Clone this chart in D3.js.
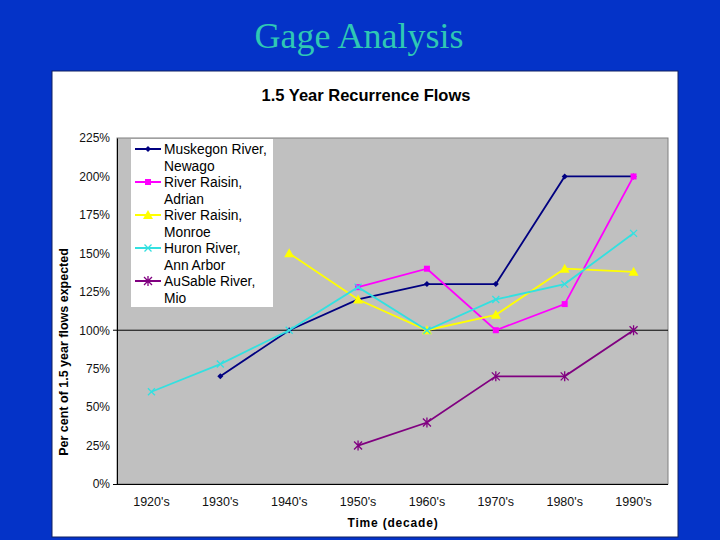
<!DOCTYPE html>
<html lang="en">
<head>
<meta charset="UTF-8">
<title>Gage Analysis</title>
<style>
  body { margin: 0; background: #0433c8; }
  svg { display: block; }
</style>
</head>
<body>
<script src="https://d3js.org/d3.v7.min.js"></script>
<script>
// data (percent of expected 1.5 year flow)
const decades = ["1920's", "1930's", "1940's", "1950's", "1960's", "1970's", "1980's", "1990's"];
const muskegon  = [null, 70, 100, 120, 130, 130, 200, 200];
const raisinAdr = [null, null, null, 128, 140, 100, 117, 200];
const raisinMon = [null, null, 150, 120, 100, 110, 140, 138];
const huron     = [60, 78, 100, 128, 100, 120, 130, 163];
const ausable   = [null, null, null, 25, 40, 70, 70, 100];
const yTicks = [0, 25, 50, 75, 100, 125, 150, 175, 200, 225];

const series = [
  { name: ["Muskegon River,", "Newago"], values: muskegon, color: "#000080", marker: "diamond" },
  { name: ["River Raisin,", "Adrian"], values: raisinAdr, color: "#ff00ff", marker: "square" },
  { name: ["River Raisin,", "Monroe"], values: raisinMon, color: "#ffff00", marker: "triangle" },
  { name: ["Huron River,", "Ann Arbor"], values: huron, color: "#33e0e0", marker: "x" },
  { name: ["AuSable River,", "Mio"], values: ausable, color: "#800080", marker: "star" }
];

const font = "Arial, 'Liberation Sans', sans-serif";
const width = 720, height = 540;
const svg = d3.select("body").append("svg")
  .attr("width", width).attr("height", height);

// slide title
svg.append("text")
  .attr("x", 359).attr("y", 48)
  .attr("text-anchor", "middle")
  .style("font-family", "'Liberation Serif', 'Times New Roman', serif")
  .style("font-size", "36px")
  .style("fill", "#2fc8b4")
  .text("Gage Analysis");

// white chart panel
svg.append("rect")
  .attr("x", 52).attr("y", 71).attr("width", 626).attr("height", 466)
  .attr("fill", "#fff").attr("stroke", "#102060").attr("stroke-width", 1);

const plot = { left: 117, right: 668, top: 138, bottom: 484 };

const x = d3.scaleBand().domain(decades).range([plot.left, plot.right]);
const y = d3.scaleLinear().domain([0, 225]).range([plot.bottom, plot.top]);

svg.append("rect")
  .attr("x", plot.left).attr("y", plot.top)
  .attr("width", plot.right - plot.left).attr("height", plot.bottom - plot.top)
  .attr("fill", "#c0c0c0").attr("stroke", "#808080");

// chart title
svg.append("text")
  .attr("x", 366).attr("y", 101)
  .attr("text-anchor", "middle")
  .style("font-family", font)
  .style("font-weight", "bold").style("font-size", "16.5px")
  .text("1.5 Year Recurrence Flows");

// 100% reference line
svg.append("line")
  .attr("x1", plot.left - 4).attr("x2", plot.right)
  .attr("y1", y(100)).attr("y2", y(100))
  .attr("stroke", "#000").attr("stroke-width", 1);

// axes
const yAxis = svg.append("g")
  .attr("transform", `translate(${plot.left},0)`)
  .call(d3.axisLeft(y).tickValues(yTicks).tickSize(0).tickPadding(7)
    .tickFormat(d => d + "%"));
yAxis.select(".domain").attr("stroke", "#000");
yAxis.selectAll("text")
  .style("font-family", font)
  .style("font-size", "12px").style("fill", "#111");

const xAxis = svg.append("g")
  .attr("transform", `translate(0,${plot.bottom})`)
  .call(d3.axisBottom(x).tickSize(0).tickPadding(13));
xAxis.select(".domain").attr("stroke", "#000").attr("d", `M${plot.left - 4},0.5H${plot.right}`);
xAxis.selectAll("text")
  .style("font-family", font)
  .style("font-size", "12.5px").style("fill", "#111");

// axis titles
svg.append("text")
  .attr("transform", "translate(68,352) rotate(-90)")
  .attr("text-anchor", "middle")
  .style("font-family", font)
  .style("font-weight", "bold").style("font-size", "12.5px")
  .text("Per cent of 1.5 year flows expected");

svg.append("text")
  .attr("x", 393).attr("y", 527)
  .attr("text-anchor", "middle")
  .style("font-family", font)
  .style("font-weight", "bold").style("font-size", "12px")
  .style("letter-spacing", "0.8px")
  .text("Time (decade)");

function drawMarker(g, type, color, cx, cy) {
  if (type === "diamond") {
    g.append("path").attr("d", `M${cx},${cy - 3}L${cx + 3},${cy}L${cx},${cy + 3}L${cx - 3},${cy}Z`)
      .attr("fill", color);
  } else if (type === "square") {
    g.append("rect").attr("x", cx - 3).attr("y", cy - 3).attr("width", 6).attr("height", 6)
      .attr("fill", color);
  } else if (type === "triangle") {
    g.append("path").attr("d", `M${cx},${cy - 5}L${cx + 5},${cy + 4}L${cx - 5},${cy + 4}Z`)
      .attr("fill", color);
  } else if (type === "x") {
    g.append("path").attr("d", `M${cx - 3.5},${cy - 3.5}L${cx + 3.5},${cy + 3.5}M${cx - 3.5},${cy + 3.5}L${cx + 3.5},${cy - 3.5}`)
      .attr("stroke", color).attr("stroke-width", 1.3);
  } else if (type === "star") {
    g.append("path").attr("d", `M${cx - 4},${cy - 4}L${cx + 4},${cy + 4}M${cx - 4},${cy + 4}L${cx + 4},${cy - 4}M${cx},${cy - 5}L${cx},${cy + 5}`)
      .attr("stroke", color).attr("stroke-width", 1.3);
  }
}

const line = d3.line()
  .defined(d => d.v != null)
  .x(d => x(d.c) + x.bandwidth() / 2)
  .y(d => y(d.v));

series.forEach(s => {
  const pts = decades.map((c, i) => ({ c: c, v: s.values[i] }));
  const g = svg.append("g");
  g.append("path").datum(pts)
    .attr("d", line)
    .attr("fill", "none").attr("stroke", s.color).attr("stroke-width", 1.8);
  pts.filter(d => d.v != null).forEach(d => {
    drawMarker(g, s.marker, s.color, x(d.c) + x.bandwidth() / 2, y(d.v));
  });
});

// legend
const legend = svg.append("g");
legend.append("rect")
  .attr("x", 131).attr("y", 139).attr("width", 142).attr("height", 168)
  .attr("fill", "#fff");
series.forEach((s, i) => {
  const cy = 149 + i * 33;
  legend.append("line")
    .attr("x1", 135).attr("x2", 161).attr("y1", cy).attr("y2", cy)
    .attr("stroke", s.color).attr("stroke-width", 2);
  drawMarker(legend, s.marker, s.color, 148, cy);
  s.name.forEach((t, j) => {
    legend.append("text")
      .attr("x", 164).attr("y", cy + 5 + j * 16.5)
      .style("font-family", font)
      .style("font-size", "13.8px").style("fill", "#000")
      .text(t);
  });
});
</script>
</body>
</html>
